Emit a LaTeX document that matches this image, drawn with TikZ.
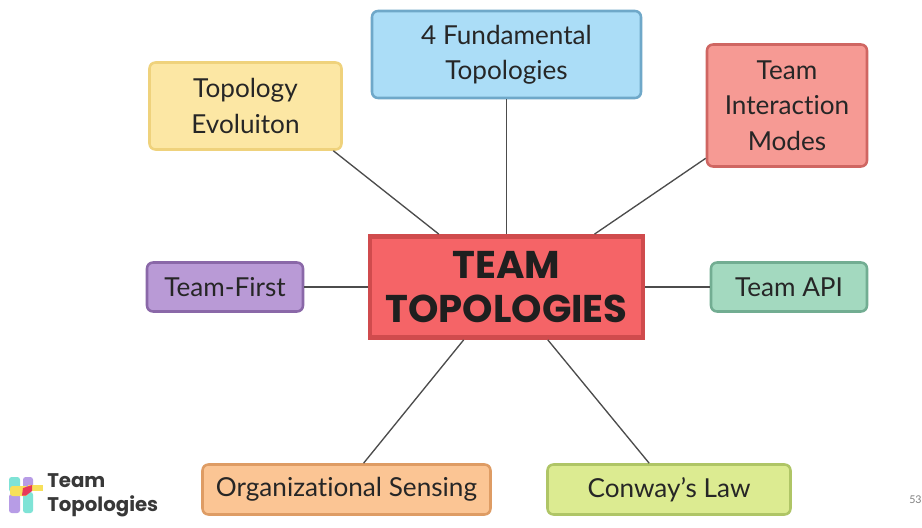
\documentclass[tikz,border=0pt]{standalone}
\usepackage{fontspec}
\setmainfont[Ligatures=NoCommon]{Lato}
\newfontfamily\titlefont{Poppins}
\usetikzlibrary{calc}
\tikzset{
  x=0.75pt,y=-0.75pt,
  topic/.style={draw=#1,line width=1.9pt,rounded corners=4.5pt,align=center,text=black!85,inner sep=0pt,font=\fontsize{19.6}{26.6}\selectfont},
  link/.style={draw=black!70,line width=1pt},
}
\definecolor{cblue}{HTML}{ABDDF7}\definecolor{cblueD}{HTML}{6FA8C9}
\definecolor{cyel}{HTML}{FCE7A4}\definecolor{cyelD}{HTML}{EFD27C}
\definecolor{cred}{HTML}{F69A94}\definecolor{credD}{HTML}{CF6662}
\definecolor{cpur}{HTML}{B99AD6}\definecolor{cpurD}{HTML}{8A68A8}
\definecolor{cgrn}{HTML}{A3D9BF}\definecolor{cgrnD}{HTML}{72AD92}
\definecolor{corg}{HTML}{FBC594}\definecolor{corgD}{HTML}{DE9C64}
\definecolor{clim}{HTML}{DCEB91}\definecolor{climD}{HTML}{AFC566}
\definecolor{cmain}{HTML}{F56467}\definecolor{cmainD}{HTML}{D04B4D}
\definecolor{lteal}{HTML}{7FE3D6}\definecolor{lpur}{HTML}{B79CE6}
\definecolor{lyel}{HTML}{F7E05A}\definecolor{lred}{HTML}{E8385A}
\newcommand{\px}[1]{\the\dimexpr#1pt*3/4\relax}
\begin{document}
\begin{tikzpicture}
\useasboundingbox (0,0) rectangle (922,528);
\clip (0,0) rectangle (922,528);
\fill[white] (0,0) rectangle (922,528);
\node[draw=cmainD,fill=cmain,line width=3.6pt,minimum width=\px{273},minimum height=\px{101},inner sep=0pt,align=center,text=black!88,font=\titlefont\bfseries\fontsize{29}{33.5}\selectfont] (main) at (506.5,287) {TEAM\\TOPOLOGIES};
\node[topic=cyelD,fill=cyel,minimum width=\px{192},minimum height=\px{87}] (evo) at (245.5,106) {Topology\\Evoluiton};
\node[topic=cblueD,fill=cblue,minimum width=\px{269},minimum height=\px{87}] (four) at (506.5,54.5) {4 Fundamental\\Topologies};
\node[topic=credD,fill=cred,minimum width=\px{160},minimum height=\px{122}] (modes) at (787,105.5) {Team\\Interaction\\Modes};
\node[topic=cpurD,fill=cpur,minimum width=\px{156},minimum height=\px{49}] (first) at (225,287) {Team-First};
\node[topic=cgrnD,fill=cgrn,minimum width=\px{156},minimum height=\px{49}] (api) at (789,287) {Team API};
\node[topic=corgD,fill=corg,minimum width=\px{288},minimum height=\px{50}] (sense) at (346.5,489.5) {Organizational Sensing};
\node[topic=climD,fill=clim,minimum width=\px{243},minimum height=\px{50}] (law) at (669,489.5) {Conway’s Law};
\draw[link] (evo.-27) -- (main.142);
\draw[link] (four) -- (main);
\draw[link] (modes.213) -- (main.31);
\draw[link] (first) -- (main);
\draw[link] (api) -- (main);
\draw[link] (sense.57) -- (main.231);
\draw[link] (law.127) -- (main.308);
% logo
\fill[rounded corners=2pt,color=lpur] (9,494) rectangle (20,513);
\fill[rounded corners=2pt,color=lteal] (9,477) rectangle (20,492);
\fill[rounded corners=2pt,color=lpur] (23,477) rectangle (33,490);
\fill[rounded corners=2pt,color=lteal] (23,492) rectangle (33,513);
\fill[rounded corners=2pt,color=lyel] (10,486) rectangle (28,496);
\fill[color=lyel] (28,485) rectangle (43,491);
\fill[color=lred] (23,488) -- (32,485) -- (32,491) -- (26,495.5) -- (22,495.5) -- cycle;
\node[anchor=west,inner sep=0pt,align=left,text=black!78,font=\titlefont\bfseries\fontsize{14.8}{18}\selectfont] (logo) at (47,495.5) {Team\\Topologies};
\node[anchor=west,inner sep=0pt,text=black!50,font=\fontsize{8}{10}\selectfont] (pg) at (909,500) {53};
\end{tikzpicture}
\end{document}
